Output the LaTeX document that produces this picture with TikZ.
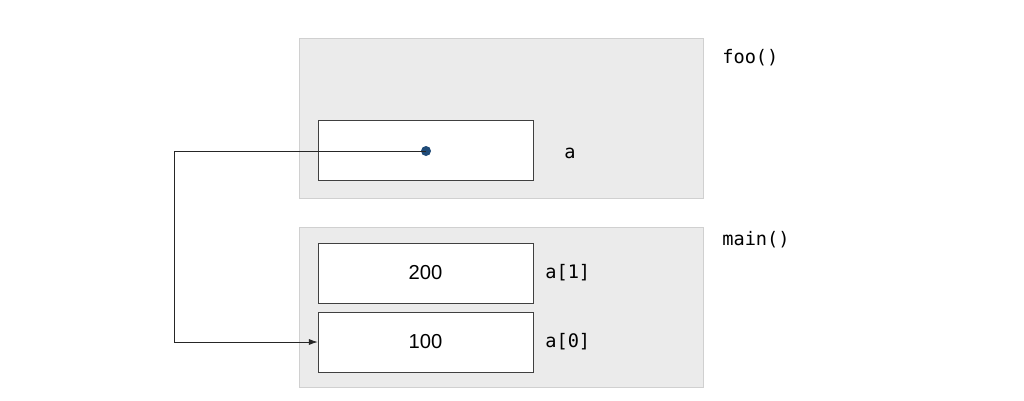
\documentclass[tikz,border=0pt]{standalone}
\usepackage{fontspec}
\setmainfont{Liberation Sans}
\setmonofont{DejaVu Sans Mono}
\usetikzlibrary{arrows.meta}
\definecolor{framegray}{RGB}{235,235,235}
\definecolor{frameline}{RGB}{208,208,208}
\definecolor{dotblue}{RGB}{31,75,120}
\tikzset{
  frame/.style={draw=frameline,fill=framegray,line width=0.5pt,minimum width=8.08cm,minimum height=3.2cm,inner sep=0pt},
  cell/.style={draw=black!75,fill=white,line width=0.45pt,minimum width=4.3cm,minimum height=1.2cm,inner sep=0pt,font=\fontsize{11.5}{13}\selectfont},
  lbl/.style={font=\ttfamily\fontsize{10.6}{12}\selectfont,inner sep=0pt}
}
\begin{document}
\begin{tikzpicture}[x=0.02cm,y=-0.02cm]
  \useasboundingbox (0,0) rectangle (1024,400);
  % stack frames
  \node[frame] (foo) at (501,118) {};
  \node[frame] (main) at (501,307) {};
  \node[lbl,anchor=west] (foolbl) at (722,58) {foo()};
  \node[lbl,anchor=west] (mainlbl) at (722,240) {main()};
  % cells
  \node[cell] (pa) at (425.5,150) {};
  \node[cell] (b1) at (425.5,273) {200};
  \node[cell] (b0) at (425.5,342) {100};
  \node[lbl] (alpa) at (570,153) {a};
  \node[lbl,anchor=west] (alb1) at (545,273) {a[1]};
  \node[lbl,anchor=west] (alb0) at (545,342) {a[0]};
  % pointer
  \fill[dotblue] (426,151) circle (5) coordinate (dot);
  \coordinate (bend) at (174,151);
  \draw[black!85,line width=0.45pt,-{Latex[length=5pt,width=3.5pt]}] (dot) -- (bend) |- (b0.west);
\end{tikzpicture}
\end{document}
